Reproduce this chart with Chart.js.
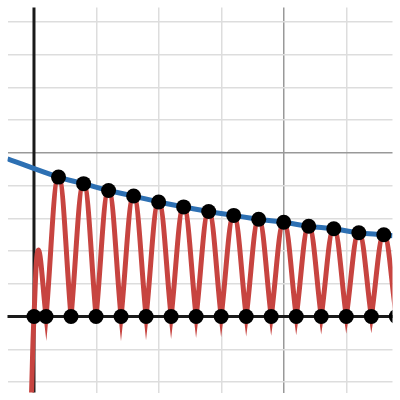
<!DOCTYPE html>
<html><head><meta charset="utf-8">
<script src="https://cdn.jsdelivr.net/npm/chart.js@4"></script>
<style>html,body{margin:0;padding:0;background:#fff}#w{width:400px;height:400px}</style>
</head><body><div id="w"><canvas id="c"></canvas></div>
<script>
// x positions of zeros and peaks (math units)
const zeroX = [0, 0.193, 0.593, 0.994, 1.394, 1.795, 2.196, 2.596, 2.997, 3.398, 3.798, 4.199, 4.599, 5.0, 5.401, 5.801];
const peakX = [0.393, 0.794, 1.194, 1.595, 1.996, 2.396, 2.797, 3.198, 3.598, 3.999, 4.399, 4.800, 5.201, 5.601];
const peakY = [4.26, 4.06, 3.85, 3.68, 3.50, 3.35, 3.21, 3.09, 2.97, 2.88, 2.76, 2.68, 2.56, 2.50];
// leading part of the red curve
const leadX = [-0.04, 0, 0.07];
const leadY = [-2.4, 0, 2.03];
// blue envelope ends
const envStart = {x: -0.424, y: 4.82};
const envEnd = {x: 5.74, y: 2.47};
const xTicks = [1, 2, 3, 4, 5];
const yTicks = [-2, -1, 1, 2, 3, 4, 5, 6, 7, 8, 9];
const xMajor = 4, yMajor = 5;

const red = leadX.map((x, i) => ({x, y: leadY[i]}));
for (let i = 1; i < zeroX.length; i++) {
  red.push({x: zeroX[i], y: 0}, {x: zeroX[i], y: 0});
  if (i - 1 < peakX.length) red.push({x: peakX[i - 1], y: peakY[i - 1]});
}
const blue = [envStart, ...peakX.map((x, i) => ({x, y: peakY[i]})), envEnd];
const dots = [...zeroX.map(x => ({x, y: 0})), ...peakX.map((x, i) => ({x, y: peakY[i]}))];

new Chart(document.getElementById('c'), {
  type: 'scatter',
  data: {datasets: [
    {data: dots, pointRadius: 7.5, pointHoverRadius: 7.5, backgroundColor: '#000', borderWidth: 0},
    {data: blue, showLine: true, borderColor: '#2d70b3', borderWidth: 5, pointRadius: 0, tension: 0.4},
    {data: red, showLine: true, borderColor: '#c74440', borderWidth: 5, pointRadius: 0, tension: 0.4},
    {data: [{x: 0, y: -3}, {x: 0, y: 10}], showLine: true, borderColor: '#1a1a1a', borderWidth: 3, pointRadius: 0},
    {data: [{x: -1, y: 0}, {x: 6, y: 0}], showLine: true, borderColor: '#1a1a1a', borderWidth: 3, pointRadius: 0}
  ]},
  options: {
    responsive: true, maintainAspectRatio: false, animation: false,
    layout: {padding: 0},
    plugins: {legend: {display: false}, tooltip: {enabled: false}},
    scales: {
      x: {type: 'linear', min: -0.424, max: 5.74,
        afterBuildTicks: s => { s.ticks = xTicks.map(v => ({value: v})); },
        ticks: {display: false}, border: {display: false},
        grid: {drawTicks: false, lineWidth: 1.5, color: c => c.tick && c.tick.value === xMajor ? '#999' : '#ddd'}},
      y: {type: 'linear', min: -2.32, max: 9.44,
        afterBuildTicks: s => { s.ticks = yTicks.map(v => ({value: v})); },
        ticks: {display: false}, border: {display: false},
        grid: {drawTicks: false, lineWidth: 1.5, color: c => c.tick && c.tick.value === yMajor ? '#999' : '#ddd'}}
    }
  }
});
</script></body></html>
